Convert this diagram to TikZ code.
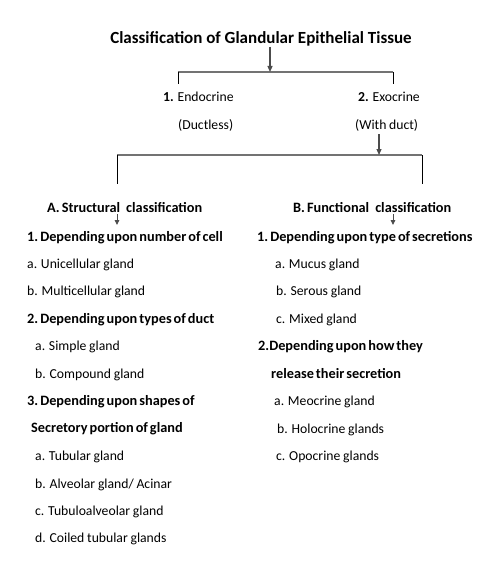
\documentclass[tikz,border=0pt]{standalone}
\usepackage{fontspec}
\setmainfont{Carlito}
\usetikzlibrary{arrows.meta}
\newcommand\mytxtfont{\fontsize{13.7}{16}\selectfont\spaceskip=0.2em\relax}
\newcommand\mybtxtfont{\fontsize{14.3}{17}\selectfont\bfseries\spaceskip=0.14em\relax}
\begin{document}
\begin{tikzpicture}[x=1pt,y=-1pt,
  txt/.style={anchor=base west,inner sep=0pt,font=\mytxtfont},
  btxt/.style={txt,font=\mybtxtfont},
  hline/.style={draw=black!55,line width=1.3pt},
  vline/.style={draw=black,line width=0.9pt},
  arr/.style={draw=black!70,line width=1.2pt,-{Triangle[length=6pt,width=5pt]}},
  sarr/.style={draw=black!70,line width=0.9pt,-{Triangle[length=5pt,width=4.5pt]}}]
\useasboundingbox[fill=white] (0,0) rectangle (488,578);
% title
\node[anchor=base,inner sep=0pt,font=\fontsize{17}{20}\selectfont\bfseries] (title) at (261,44) {Classification of Glandular Epithelial Tissue};
% first bracket
\coordinate (b1l) at (178,72);
\coordinate (b1r) at (393,72);
\coordinate (b1m) at (270,72);
\coordinate (b1ld) at (178,84);
\coordinate (b1rd) at (393,84);
\draw[hline] (b1l) -- (b1r);
\draw[vline] (b1l) -- (b1ld);
\draw[vline] (b1r) -- (b1rd);
\draw[arr] (270,47) -- (b1m);
\node[txt] (endo) at (163,101) {\textbf{1.} Endocrine};
\node[txt] (ductless) at (178,129) {(Ductless)};
\node[txt] (exo) at (358,101) {\textbf{2.} Exocrine};
\node[txt] (withduct) at (355,129) {(With duct)};
% second bracket
\coordinate (b2l) at (117,155);
\coordinate (b2r) at (422,155);
\coordinate (b2m) at (379,155);
\coordinate (b2ld) at (117,184);
\coordinate (b2rd) at (422,184);
\draw[hline] (b2l) -- (b2r);
\draw[vline] (b2l) -- (b2ld);
\draw[vline] (b2r) -- (b2rd);
\draw[arr] (withduct.south -| b2m) ++(0,3) -- (b2m);
% left column
\node[btxt] (A) at (47,212) {A. Structural\ \ \ classification};
\node[btxt] (A1) at (27,241) {1.\ Depending upon number of cell};
\draw[sarr] (117,214) -- (117,225);
\node[txt] (A1a) at (27,268) {a. Unicellular gland};
\node[txt] (A1b) at (27,295) {b. Multicellular gland};
\node[btxt] (A2) at (27,323) {2.\ Depending upon types of duct};
\node[txt] (A2a) at (35,350) {a. Simple gland};
\node[txt] (A2b) at (35,378) {b. Compound gland};
\node[btxt] (A3) at (27,405) {3.\ Depending upon shapes of};
\node[btxt] (A3s) at (31,432) {Secretory portion of gland};
\node[txt] (A3a) at (35,460) {a. Tubular gland};
\node[txt] (A3b) at (35,488) {b. Alveolar gland/ Acinar};
\node[txt] (A3c) at (35,515) {c. Tubuloalveolar gland};
\node[txt] (A3d) at (35,542) {d. Coiled tubular glands};
% right column
\node[btxt] (B) at (293,212) {B. Functional\ \ \ classification};
\draw[sarr] (393,214) -- (393,225);
\node[btxt] (B1) at (257,241) {1.\ Depending upon type of secretions};
\node[txt] (B1a) at (275,268) {a. Mucus gland};
\node[txt] (B1b) at (276,295) {b. Serous gland};
\node[txt] (B1c) at (276,323) {c. Mixed gland};
\node[btxt] (B2) at (258,350) {2.Depending upon how they};
\node[btxt] (B2r) at (271,378) {release their secretion};
\node[txt] (B2a) at (274,405) {a. Meocrine gland};
\node[txt] (B2b) at (277,433) {b. Holocrine glands};
\node[txt] (B2c) at (276,460) {c. Opocrine glands};
\end{tikzpicture}
\end{document}
